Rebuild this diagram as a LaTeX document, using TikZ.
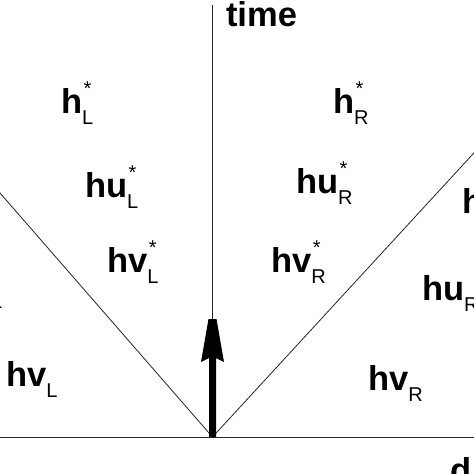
\documentclass[tikz,border=0pt]{standalone}
\usepackage{fontspec}
\setmainfont{Liberation Sans}
\newcommand\mainsz{\fontsize{34.5}{34.5}\selectfont\bfseries}
\newcommand\subsz{\fontsize{20}{20}\selectfont\mdseries}
\newcommand\starlbl[2]{{\mainsz #1}\rlap{\hspace{1.5pt}\raisebox{18pt}{\subsz *}}\raisebox{-11pt}{\subsz #2}}
\newcommand\plainlbl[2]{{\mainsz #1}\raisebox{-11pt}{\subsz #2}}
\begin{document}
\begin{tikzpicture}[x=1pt,y=-1pt,
  lbl/.style={inner sep=0pt,outer sep=0pt,anchor=base west},
  thinline/.style={line width=0.8pt,draw=black!85}]
\useasboundingbox (0,0) rectangle (474,474);
\clip (0,0) rectangle (474,474);
\fill[white] (0,0) rectangle (474,474);
% geometry
\coordinate (O) at (212.5,437);
\coordinate (T) at (212.5,5);
\coordinate (AL) at (-10,437);
\coordinate (AR) at (484,437);
\coordinate (LL) at (-10,181.5);
\coordinate (RR) at (484,142);
\draw[thinline] (AL) -- (AR);
\draw[thinline] (O) -- (T);
\draw[thinline] (O) -- (LL);
\draw[thinline] (O) -- (RR);
% thick arrow
\fill[black] (209.2,437) -- (209.2,358) -- (201,362) -- (208.5,319) -- (216.5,319)
  -- (224,362) -- (216,358) -- (216,437) -- cycle;
% labels
\node[lbl] (time) at (226,26) {\mainsz time};
\node[lbl] (dist) at (450,482) {\mainsz d};
\node[lbl] (hLs)  at (61,113)  {\starlbl{h}{L}};
\node[lbl] (huLs) at (85,197)  {\starlbl{hu}{L}};
\node[lbl] (hvLs) at (107,272) {\starlbl{hv}{L}};
\node[lbl] (hvL)  at (6,386)   {\plainlbl{hv}{L}};
\node[lbl] (huL)  at (-51,297) {\plainlbl{hu}{L}};
\node[lbl] (hRs)  at (333,113) {\starlbl{h}{R}};
\node[lbl] (huRs) at (296,193) {\starlbl{hu}{R}};
\node[lbl] (hvRs) at (271,272) {\starlbl{hv}{R}};
\node[lbl] (hvR)  at (368,390) {\plainlbl{hv}{R}};
\node[lbl] (hR)   at (462,213) {\plainlbl{h}{R}};
\node[lbl] (huR)  at (422,300) {\plainlbl{hu}{R}};
\end{tikzpicture}
\end{document}
